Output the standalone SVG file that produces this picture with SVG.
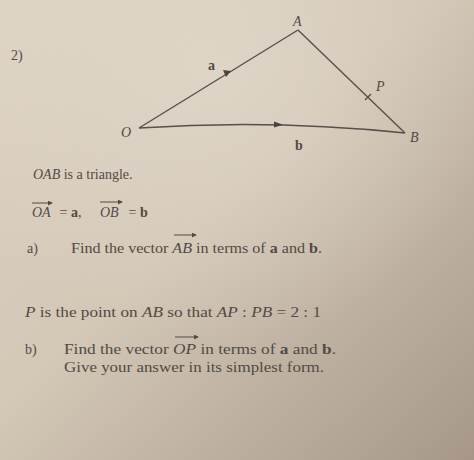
<svg xmlns="http://www.w3.org/2000/svg" width="474" height="460" viewBox="0 0 474 460">
<defs>
<linearGradient id="bg" x1="0" y1="0" x2="1" y2="1">
<stop offset="0" stop-color="#ddd3c4"/>
<stop offset="0.45" stop-color="#d3c7b6"/>
<stop offset="1" stop-color="#a6978a"/>
</linearGradient>
<radialGradient id="glow" cx="0.45" cy="0.15" r="0.6">
<stop offset="0" stop-color="#e4dccf" stop-opacity="0.6"/>
<stop offset="1" stop-color="#e4dccf" stop-opacity="0"/>
</radialGradient>
<marker id="vh" viewBox="0 0 6 6" refX="5" refY="3" markerWidth="5" markerHeight="5" orient="auto" markerUnits="userSpaceOnUse">
<path d="M0 0 L6 3 L0 6 Z" fill="#524a44"/>
</marker>
<style>
.t{font-family:"Liberation Serif","Times New Roman",serif;font-size:14px;fill:#524a44}
.i{font-style:italic}
.b{font-weight:bold}
.ln{stroke:#57504b;stroke-width:1.4;fill:none}
.va{stroke:#524a44;stroke-width:1;marker-end:url(#vh)}
</style>
</defs>
<rect width="474" height="460" fill="url(#bg)"/>
<rect width="474" height="460" fill="url(#glow)"/>

<g id="connectors">
<line id="OA" class="ln" x1="139" y1="128" x2="298" y2="30"/>
<path id="OB" class="ln" d="M139 128 Q272 119 405 133"/>
<line id="AB" class="ln" x1="298" y1="30" x2="405" y2="133"/>
<path d="M223 70 L231 71 L226 77 Z" fill="#4a433e"/>
<path d="M274 121.5 L283 124.7 L274 127.5 Z" fill="#4a433e"/>
<line x1="365" y1="100" x2="371" y2="94" stroke="#57504b" stroke-width="1.4"/>
</g>

<g id="node-O"><text class="t i" x="121" y="137" font-size="13">O</text></g>
<g id="node-A"><text class="t i" x="293" y="26" font-size="13">A</text></g>
<g id="node-B"><text class="t i" x="410" y="142" font-size="13">B</text></g>
<g id="node-P"><text class="t i" x="376" y="91" font-size="13">P</text></g>
<g id="label-a"><text class="t b" x="208" y="70" font-size="13">a</text></g>
<g id="label-b"><text class="t b" x="295" y="150" font-size="13">b</text></g>

<g id="text">
<text class="t" x="11" y="60" font-size="10" fill="#6f665f">2)</text>
<text class="t" x="33" y="179" font-size="13"><tspan class="i">OAB</tspan> is a triangle.</text>

<text class="t" y="217"><tspan class="i" x="32">OA</tspan><tspan x="56"> = <tspan class="b">a</tspan>,</tspan><tspan class="i" x="100">OB</tspan><tspan x="125"> = <tspan class="b">b</tspan></tspan></text>
<line class="va" x1="32" y1="203" x2="52" y2="203"/>
<line class="va" x1="100" y1="202" x2="122" y2="202"/>

<text class="t" x="27" y="253">a)</text>
<text class="t" x="71" y="253" textLength="251" lengthAdjust="spacingAndGlyphs">Find the vector <tspan class="i">AB</tspan> in terms of <tspan class="b">a</tspan> and <tspan class="b">b</tspan>.</text>
<line class="va" x1="174" y1="235" x2="196" y2="235"/>

<text class="t" x="25" y="317" textLength="296" lengthAdjust="spacingAndGlyphs"><tspan class="i">P</tspan> is the point on <tspan class="i">AB</tspan> so that <tspan class="i">AP</tspan> : <tspan class="i">PB</tspan> = 2 : 1</text>

<text class="t" x="25" y="354">b)</text>
<text class="t" x="64" y="354" textLength="272" lengthAdjust="spacingAndGlyphs">Find the vector <tspan class="i">OP</tspan> in terms of <tspan class="b">a</tspan> and <tspan class="b">b</tspan>.</text>
<line class="va" x1="175" y1="337" x2="198" y2="337"/>
<text class="t" x="64" y="372" textLength="260" lengthAdjust="spacingAndGlyphs">Give your answer in its simplest form.</text>
</g>
</svg>
